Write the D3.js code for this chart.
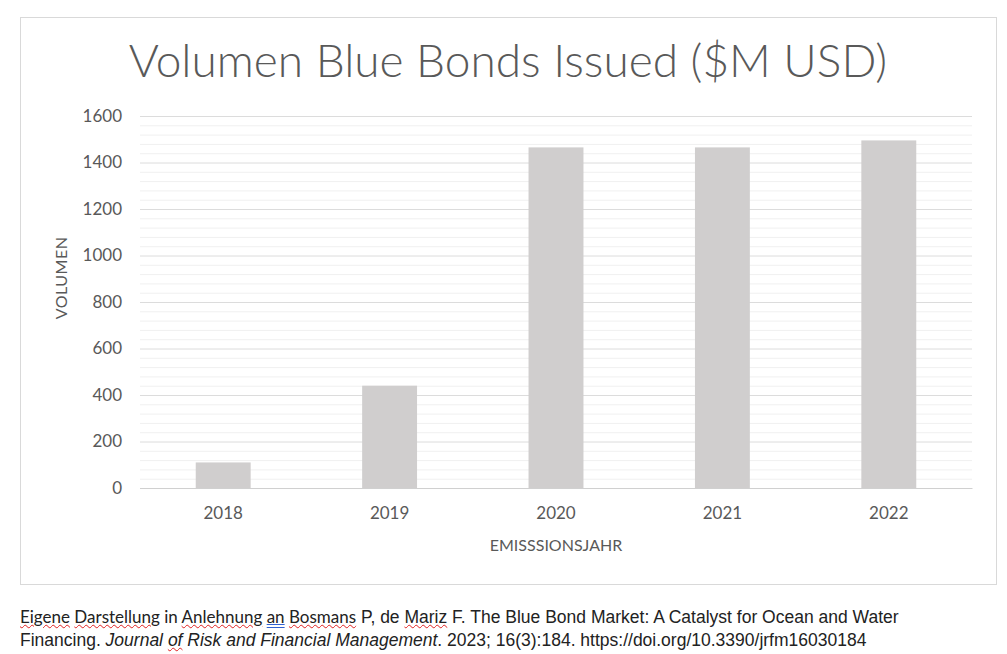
<!DOCTYPE html>
<html><head><meta charset="utf-8">
<script src="https://cdn.jsdelivr.net/npm/d3@7"></script>
<style>
body{margin:0;background:#fff;}
.note{position:absolute;left:20px;top:605px;font-family:"Liberation Sans",Arial,sans-serif;font-size:17.5px;color:#222;line-height:23px;white-space:nowrap;}
.sp{text-decoration:underline wavy #e02020;text-decoration-thickness:1px;}
.gr{text-decoration:underline double #3060d0;}
</style></head>
<body>
<div id="chart"></div>
<div class="note"><span style="font-family:Lato,sans-serif;font-size:17px"><span class="sp">Eigene</span> <span class="sp">Darstellung</span> in <span class="sp">Anlehnung</span> <span class="gr">an</span> <span class="sp">Bosmans</span></span> P, de <span class="sp">Mariz</span> F. The Blue Bond Market: A Catalyst for Ocean and Water<br>Financing. <i><span>Journal <span class="sp">of</span> Risk and Financial Management</span></i>. 2023; 16(3):184. https://doi.org/10.3390/jrfm16030184</div>
<script>
// data
const years = ["2018", "2019", "2020", "2021", "2022"];
const volumes = [110, 440, 1465, 1465, 1495];
const yTicks = [0, 200, 400, 600, 800, 1000, 1200, 1400, 1600];

const W = 1007, H = 654;
const margin = { top: 116, right: 35, bottom: 166, left: 140 },
    width = W - margin.left - margin.right,
    height = H - margin.top - margin.bottom;
const font = "Lato, 'Open Sans', sans-serif";

const root = d3.select("#chart").append("svg")
    .attr("width", W).attr("height", H)
    .style("position", "absolute").style("left", 0).style("top", 0);

// chart frame
root.append("rect").attr("x", 20.5).attr("y", 17.5).attr("width", 976).attr("height", 567)
    .attr("fill", "#fff").attr("stroke", "#d9d9d9");

root.append("text").attr("x", 508).attr("y", 77).attr("text-anchor", "middle")
    .attr("font-family", font).attr("font-size", 46).attr("font-weight", 300)
    .attr("fill", "#595959").text("Volumen Blue Bonds Issued ($M USD)");

const svg = root.append("g").attr("transform", "translate(" + margin.left + "," + margin.top + ")");

const x = d3.scaleBand().domain(years).range([0, width]).paddingInner(0.67).paddingOuter(0.335);
const y = d3.scaleLinear().domain([0, 1600]).range([height, 0]);

// minor gridlines
svg.append("g").selectAll("line").data(d3.range(0, 1601, 40).filter(d => d % 200 !== 0))
    .join("line").attr("x1", 0).attr("x2", width)
    .attr("y1", d => y(d) + 0.5).attr("y2", d => y(d) + 0.5)
    .attr("stroke", "#f0f0f0");

// major gridlines + labels
const yAxis = svg.append("g").call(d3.axisLeft(y).tickValues(yTicks).tickFormat(d3.format("d")).tickSize(-width).tickPadding(18));
yAxis.select(".domain").remove();
yAxis.selectAll(".tick line").attr("stroke", d => d === 0 ? "#d0d0d0" : "#dcdcdc");
yAxis.selectAll("text").attr("font-family", font)
    .attr("font-size", 17).attr("fill", "#595959");

svg.selectAll(".bar").data(volumes).join("rect").attr("class", "bar")
    .attr("x", (d, i) => x(years[i])).attr("width", x.bandwidth())
    .attr("y", d => y(d)).attr("height", d => height - y(d)).attr("fill", "#d0cece");

const xAxis = svg.append("g").attr("transform", "translate(0," + height + ")")
    .call(d3.axisBottom(x).tickSize(0).tickPadding(19));
xAxis.select(".domain").attr("stroke", "#d0d0d0");
xAxis.selectAll("text").attr("font-family", font)
    .attr("font-size", 17).attr("fill", "#595959");

svg.append("text").attr("x", width / 2).attr("y", height + 63).attr("text-anchor", "middle")
    .attr("font-family", font).attr("font-size", 16)
    .attr("fill", "#595959").text("EMISSSIONSJAHR");

svg.append("text").attr("transform", "translate(-73," + (height / 2 - 24) + ") rotate(-90)")
    .attr("text-anchor", "middle")
    .attr("font-family", font).attr("font-size", 16).attr("letter-spacing", 0.5)
    .attr("fill", "#595959").text("VOLUMEN");
</script>
</body></html>
